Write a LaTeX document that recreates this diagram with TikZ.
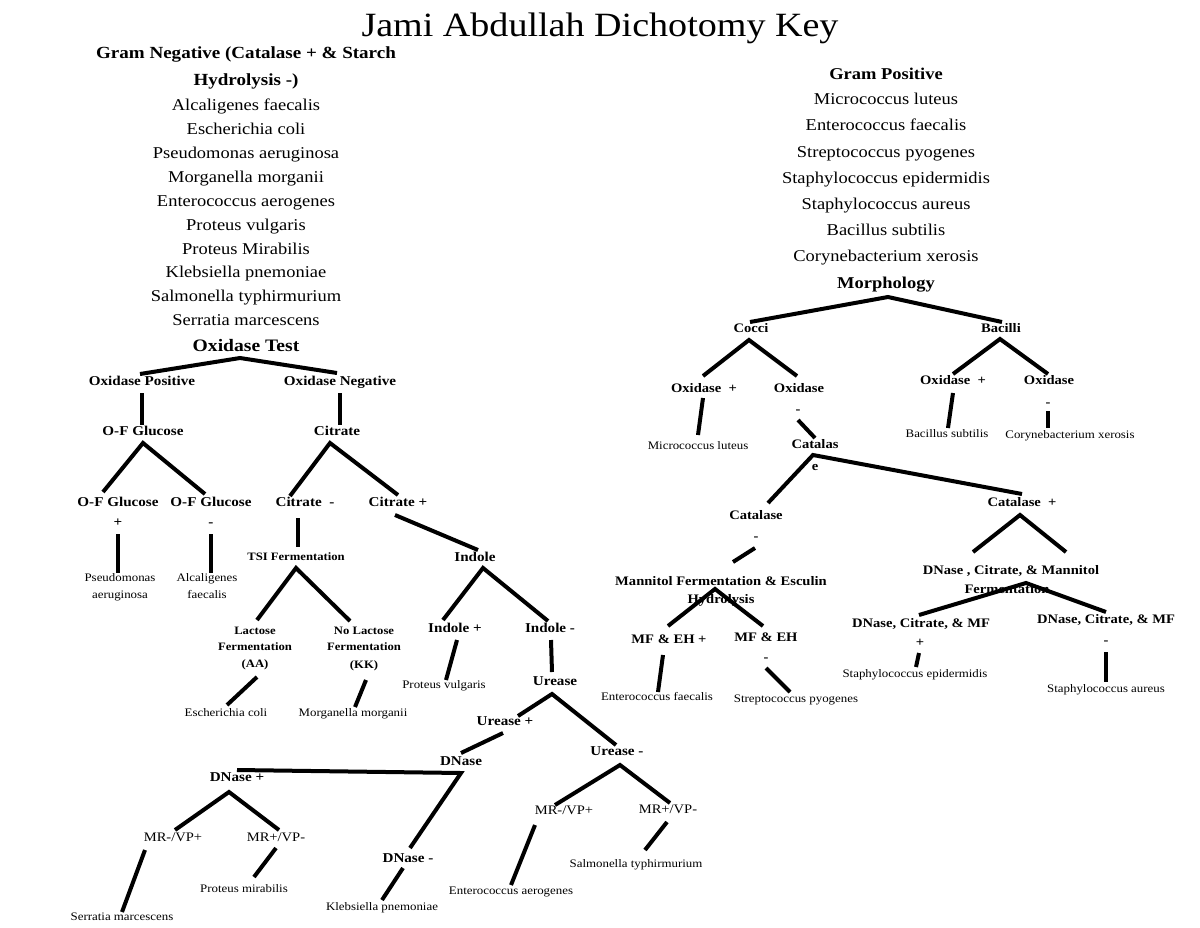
\documentclass[tikz,border=0pt]{standalone}
\usepackage{fontspec}
\setmainfont{Liberation Serif}[FakeStretch=1.12]
\usepackage{tikz}
\usetikzlibrary{positioning, calc}

\tikzset{
  txt/.style={inner sep=0pt, text depth=0pt},
  hd/.style={txt, text height=11pt, font=\bfseries\fontsize{16.5}{20}\selectfont},
  sp/.style={txt, text height=10.9pt, font=\fontsize{16.5}{20}\selectfont},
  lb/.style={txt, text height=8.9pt, font=\bfseries\fontsize{13.5}{16}\selectfont},
  sl/.style={txt, text height=7.5pt, font=\bfseries\fontsize{11.3}{14}\selectfont},
  rl/.style={txt, text height=8.6pt, font=\bfseries\fontsize{13}{16}\selectfont},
  lf/.style={txt, text height=7.6pt, font=\fontsize{11.5}{14}\selectfont},
  mr/.style={txt, text height=8.6pt, font=\fontsize{13}{16}\selectfont},
  br/.style={line width=4pt}
}

\begin{document}
\begin{tikzpicture}[x=1pt,y=-1pt]
\useasboundingbox (0,0) rectangle (1200,927);
\node[txt, text height=22.4pt, font=\fontsize{34}{40}\selectfont] (title) at (600,25) {Jami Abdullah Dichotomy Key};

% gram negative
\node[hd, font=\bfseries\fontsize{17}{20}\selectfont] (gn1) at (246,53) {Gram Negative (Catalase + \& Starch};
\node[hd, font=\bfseries\fontsize{17}{20}\selectfont] (gn2) at (246,80) {Hydrolysis -)};
\node[sp] (n1) at (246,105) {Alcaligenes faecalis};
\node[sp] (n2) at (246,129) {Escherichia coli};
\node[sp] (n3) at (246,153) {Pseudomonas aeruginosa};
\node[sp] (n4) at (246,177) {Morganella morganii};
\node[sp] (n5) at (246,201) {Enterococcus aerogenes};
\node[sp] (n6) at (246,225) {Proteus vulgaris};
\node[sp] (n7) at (246,249) {Proteus Mirabilis};
\node[sp] (n8) at (246,272) {Klebsiella pnemoniae};
\node[sp] (n9) at (246,296) {Salmonella typhirmurium};
\node[sp] (n10) at (246,320) {Serratia marcescens};
\node[hd, font=\bfseries\fontsize{17.5}{20}\selectfont] (ot) at (246,346) {Oxidase Test};

\node[lb] (oxp) at (142,381) {Oxidase Positive};
\node[lb] (oxn) at (340,381) {Oxidase Negative};
\node[lb] (ofg) at (143,431) {O-F Glucose};
\node[lb] (cit) at (337,431) {Citrate};
\node[lb] (ofp) at (118,502) {O-F Glucose};
\node[lb] (ofp2) at (118,522) {+};
\node[lb] (ofn) at (211,502) {O-F Glucose};
\node[lb] (ofn2) at (211,522) {-};
\node[lf] (pa) at (120,578) {Pseudomonas};
\node[lf] (pa2) at (120,595) {aeruginosa};
\node[lf] (af) at (207,578) {Alcaligenes};
\node[lf] (af2) at (207,595) {faecalis};
\node[lb] (cim) at (305,502) {Citrate\ \ -};
\node[lb] (cip) at (398,502) {Citrate +};
\node[sl] (tsi) at (296,557) {TSI Fermentation};
\node[lb] (ind) at (475,557) {Indole};
\node[sl] (lac) at (255,631) {Lactose};
\node[sl] (lac2) at (255,647) {Fermentation};
\node[sl] (lac3) at (255,664) {(AA)};
\node[sl] (nlac) at (364,631) {No Lactose};
\node[sl] (nlac2) at (364,647) {Fermentation};
\node[sl] (nlac3) at (364,665) {(KK)};
\node[lf] (ec) at (226,713) {Escherichia coli};
\node[lf] (mm) at (353,713) {Morganella morganii};
\node[lb] (inp) at (455,628) {Indole +};
\node[lb] (inm) at (550,628) {Indole -};
\node[lf] (pv) at (444,685) {Proteus vulgaris};
\node[lb] (ure) at (555,681) {Urease};
\node[lb] (urp) at (505,721) {Urease +};
\node[lb] (urm) at (617,751) {Urease -};
\node[lb] (dn) at (461,761) {DNase};
\node[lb] (dnp) at (237,777) {DNase +};
\node[lb] (dnm) at (408,858) {DNase -};
\node[mr] (mr1) at (173,837) {MR-/VP+};
\node[mr] (mr2) at (276,837) {MR+/VP-};
\node[lf] (sm) at (122,917) {Serratia marcescens};
\node[lf] (pm) at (244,889) {Proteus mirabilis};
\node[lf] (kp) at (382,907) {Klebsiella pnemoniae};
\node[mr] (mr3) at (564,810) {MR-/VP+};
\node[mr] (mr4) at (668,809) {MR+/VP-};
\node[lf] (ea) at (511,891) {Enterococcus aerogenes};
\node[lf] (st) at (636,864) {Salmonella typhirmurium};

\coordinate (ot0) at (240,358); \coordinate (ot1) at (140,374); \coordinate (ot2) at (337,373);
\draw[br] (ot1) -- (ot0) -- (ot2);
\coordinate (op0) at (142,393); \coordinate (op1) at (142,425);
\draw[br] (op0) -- (op1);
\coordinate (on0) at (340,393); \coordinate (on1) at (340,425);
\draw[br] (on0) -- (on1);
\coordinate (of0) at (143,443); \coordinate (of1) at (103,492); \coordinate (of2) at (205,494);
\draw[br] (of1) -- (of0) -- (of2);
\coordinate (pa0) at (118,534); \coordinate (pa1) at (118,573);
\draw[br] (pa0) -- (pa1);
\coordinate (af0) at (211,534); \coordinate (af1) at (211,573);
\draw[br] (af0) -- (af1);
\coordinate (ci0) at (330,443); \coordinate (ci1) at (290,496); \coordinate (ci2) at (398,495);
\draw[br] (ci1) -- (ci0) -- (ci2);
\coordinate (ts0) at (298,518); \coordinate (ts1) at (298,547);
\draw[br] (ts0) -- (ts1);
\coordinate (id0) at (395,515); \coordinate (id1) at (478,550);
\draw[br] (id0) -- (id1);
\coordinate (tf0) at (296,568); \coordinate (tf1) at (257,620); \coordinate (tf2) at (350,621);
\draw[br] (tf1) -- (tf0) -- (tf2);
\coordinate (ec0) at (257,677); \coordinate (ec1) at (227,705);
\draw[br] (ec0) -- (ec1);
\coordinate (mm0) at (366,680); \coordinate (mm1) at (355,707);
\draw[br] (mm0) -- (mm1);
\coordinate (in0) at (483,568); \coordinate (in1) at (443,620); \coordinate (in2) at (548,621);
\draw[br] (in1) -- (in0) -- (in2);
\coordinate (pv0) at (457,640); \coordinate (pv1) at (446,680);
\draw[br] (pv0) -- (pv1);
\coordinate (ue0) at (551,640); \coordinate (ue1) at (552,672);
\draw[br] (ue0) -- (ue1);
\coordinate (ur0) at (552,694); \coordinate (ur1) at (518,716); \coordinate (ur2) at (616,745);
\draw[br] (ur1) -- (ur0) -- (ur2);
\coordinate (dn0) at (503,733); \coordinate (dn1) at (461,753);
\draw[br] (dn0) -- (dn1);
\coordinate (dh0) at (237,770); \coordinate (dh1) at (461,773); \coordinate (dh2) at (410,848);
\draw[br] (dh0) -- (dh1) -- (dh2);
\coordinate (dp0) at (229,792); \coordinate (dp1) at (175,830); \coordinate (dp2) at (279,830);
\draw[br] (dp1) -- (dp0) -- (dp2);
\coordinate (sm0) at (145,850); \coordinate (sm1) at (122,912);
\draw[br] (sm0) -- (sm1);
\coordinate (pm0) at (276,848); \coordinate (pm1) at (254,877);
\draw[br] (pm0) -- (pm1);
\coordinate (kp0) at (403,868); \coordinate (kp1) at (382,900);
\draw[br] (kp0) -- (kp1);
\coordinate (um0) at (620,765); \coordinate (um1) at (555,805); \coordinate (um2) at (670,803);
\draw[br] (um1) -- (um0) -- (um2);
\coordinate (ea0) at (535,825); \coordinate (ea1) at (511,885);
\draw[br] (ea0) -- (ea1);
\coordinate (st0) at (667,822); \coordinate (st1) at (645,850);
\draw[br] (st0) -- (st1);

% gram positive
\node[hd] (gp) at (886,74) {Gram Positive};
\node[sp] (p1) at (886,99) {Micrococcus luteus};
\node[sp] (p2) at (886,125) {Enterococcus faecalis};
\node[sp] (p3) at (886,152) {Streptococcus pyogenes};
\node[sp] (p4) at (886,178) {Staphylococcus epidermidis};
\node[sp] (p5) at (886,204) {Staphylococcus aureus};
\node[sp] (p6) at (886,230) {Bacillus subtilis};
\node[sp] (p7) at (886,256) {Corynebacterium xerosis};
\node[hd] (mor) at (886,283) {Morphology};

\node[rl] (coc) at (751,328) {Cocci};
\node[rl] (bac) at (1001,328) {Bacilli};
\node[rl] (ox1) at (704,388) {Oxidase\ \ +};
\node[rl] (ox2) at (799,388) {Oxidase};
\node[rl] (ox2b) at (798,409) {-};
\node[lf] (ml) at (698,446) {Micrococcus luteus};
\node[rl] (cat) at (815,444) {Catalas};
\node[rl] (catb) at (815,466) {e};
\node[rl] (ox3) at (953,380) {Oxidase\ \ +};
\node[rl] (ox4) at (1049,380) {Oxidase};
\node[rl] (ox4b) at (1048,402) {-};
\node[lf] (bs) at (947,434) {Bacillus subtilis};
\node[lf] (cx) at (1070,435) {Corynebacterium xerosis};
\node[rl] (cam) at (756,515) {Catalase};
\node[rl] (camb) at (756,536) {-};
\node[rl] (cap) at (1022,502) {Catalase\ \ +};
\node[rl] (mfe) at (721,581) {Mannitol Fermentation \& Esculin};
\node[rl] (mfe2) at (721,599) {Hydrolysis};
\node[rl] (mfp) at (669,639) {MF \& EH +};
\node[rl] (mfm) at (766,637) {MF \& EH};
\node[rl] (mfm2) at (766,657) {-};
\node[lf] (ef) at (657,697) {Enterococcus faecalis};
\node[lf] (spy) at (796,699) {Streptococcus pyogenes};
\node[rl] (dcm) at (1011,570) {DNase , Citrate, \& Mannitol};
\node[rl] (dcm2) at (1007,589) {Fermentation};
\node[rl] (dcp) at (921,623) {DNase, Citrate, \& MF};
\node[rl] (dcp2) at (920,642) {+};
\node[rl] (dcn) at (1106,619) {DNase, Citrate, \& MF};
\node[rl] (dcn2) at (1106,640) {-};
\node[lf] (se) at (915,674) {Staphylococcus epidermidis};
\node[lf] (sa) at (1106,689) {Staphylococcus aureus};

\coordinate (mo0) at (888,297); \coordinate (mo1) at (750,322); \coordinate (mo2) at (1002,322);
\draw[br] (mo1) -- (mo0) -- (mo2);
\coordinate (co0) at (749,340); \coordinate (co1) at (703,376); \coordinate (co2) at (797,376);
\draw[br] (co1) -- (co0) -- (co2);
\coordinate (ml0) at (703,398); \coordinate (ml1) at (698,435);
\draw[br] (ml0) -- (ml1);
\coordinate (ct0) at (798,420); \coordinate (ct1) at (815,438);
\draw[br] (ct0) -- (ct1);
\coordinate (ca0) at (813,455); \coordinate (ca1) at (768,503); \coordinate (ca2) at (1022,494);
\draw[br] (ca1) -- (ca0) -- (ca2);
\coordinate (ba0) at (1000,339); \coordinate (ba1) at (953,374); \coordinate (ba2) at (1048,374);
\draw[br] (ba1) -- (ba0) -- (ba2);
\coordinate (bs0) at (953,393); \coordinate (bs1) at (948,428);
\draw[br] (bs0) -- (bs1);
\coordinate (cx0) at (1048,411); \coordinate (cx1) at (1048,428);
\draw[br] (cx0) -- (cx1);
\coordinate (me0) at (755,548); \coordinate (me1) at (733,562);
\draw[br] (me0) -- (me1);
\coordinate (mf0) at (715,589); \coordinate (mf1) at (668,626); \coordinate (mf2) at (763,626);
\draw[br] (mf1) -- (mf0) -- (mf2);
\coordinate (ef0) at (663,655); \coordinate (ef1) at (658,692);
\draw[br] (ef0) -- (ef1);
\coordinate (sp0) at (766,668); \coordinate (sp1) at (790,692);
\draw[br] (sp0) -- (sp1);
\coordinate (cp0) at (1020,515); \coordinate (cp1) at (973,552); \coordinate (cp2) at (1066,552);
\draw[br] (cp1) -- (cp0) -- (cp2);
\coordinate (dc0) at (1026,583); \coordinate (dc1) at (919,615); \coordinate (dc2) at (1106,612);
\draw[br] (dc1) -- (dc0) -- (dc2);
\coordinate (se0) at (919,653); \coordinate (se1) at (916,667);
\draw[br] (se0) -- (se1);
\coordinate (sa0) at (1106,652); \coordinate (sa1) at (1106,682);
\draw[br] (sa0) -- (sa1);
\end{tikzpicture}
\end{document}
